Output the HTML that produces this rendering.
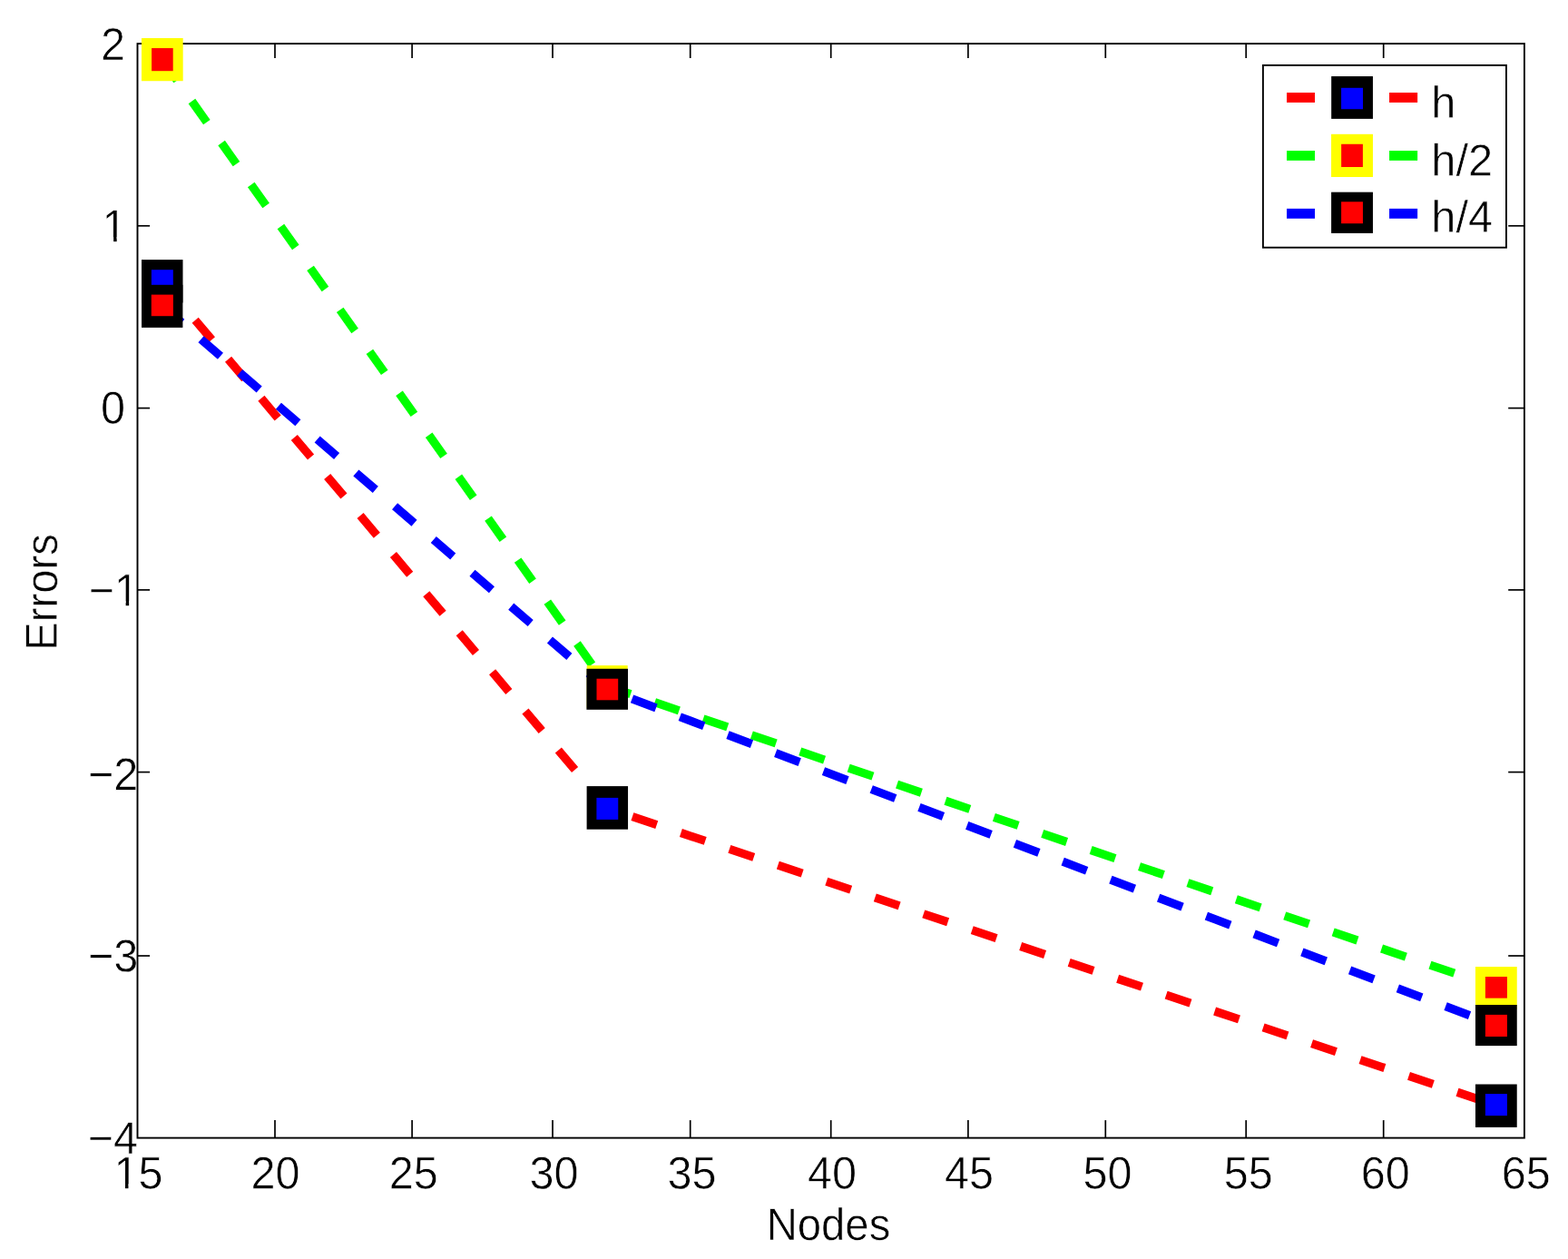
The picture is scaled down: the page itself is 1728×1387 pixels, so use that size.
<!DOCTYPE html>
<html lang="en"><head><meta charset="utf-8"><title>Errors vs Nodes</title>
<style>
html,body{margin:0;padding:0;background:#fff;}
body{width:1728px;height:1387px;overflow:hidden;}
svg{display:block;}
text{font-family:"Liberation Sans",sans-serif;font-size:48px;fill:#000;stroke:#fff;stroke-width:0.6px;stroke-linejoin:round;}
</style></head><body>
<svg width="1728" height="1387" viewBox="0 0 1728 1387">
<rect x="0" y="0" width="1728" height="1387" fill="#ffffff"/>
<g id="tick-labels">
<text transform="translate(152.40 1309.55) rotate(0.05) scale(1.012 1.05)" text-anchor="middle">15</text>
<text transform="translate(303.40 1309.55) rotate(0.05) scale(1.012 1.05)" text-anchor="middle">20</text>
<text transform="translate(455.80 1309.55) rotate(0.05) scale(1.012 1.05)" text-anchor="middle">25</text>
<text transform="translate(610.50 1309.55) rotate(0.05) scale(1.012 1.05)" text-anchor="middle">30</text>
<text transform="translate(762.40 1309.55) rotate(0.05) scale(1.012 1.05)" text-anchor="middle">35</text>
<text transform="translate(916.90 1309.55) rotate(0.05) scale(1.012 1.05)" text-anchor="middle">40</text>
<text transform="translate(1067.90 1309.55) rotate(0.05) scale(1.012 1.05)" text-anchor="middle">45</text>
<text transform="translate(1220.40 1309.55) rotate(0.05) scale(1.012 1.05)" text-anchor="middle">50</text>
<text transform="translate(1375.80 1309.55) rotate(0.05) scale(1.012 1.05)" text-anchor="middle">55</text>
<text transform="translate(1526.70 1309.55) rotate(0.05) scale(1.012 1.05)" text-anchor="middle">60</text>
<text transform="translate(1681.80 1309.55) rotate(0.05) scale(1.012 1.05)" text-anchor="middle">65</text>
<text transform="translate(124.60 66.05) rotate(0.05) scale(1.012 1.05)" text-anchor="middle">2</text>
<text transform="translate(126.10 266.25) rotate(0.05) scale(1.012 1.05)" text-anchor="middle">1</text>
<text transform="translate(124.60 466.45) rotate(0.05) scale(1.012 1.05)" text-anchor="middle">0</text>
<text transform="translate(125.40 667.45) rotate(0.05) scale(1.012 1.05)" text-anchor="middle">−1</text>
<text transform="translate(124.60 870.25) rotate(0.05) scale(1.012 1.05)" text-anchor="middle">−2</text>
<text transform="translate(124.60 1070.35) rotate(0.05) scale(1.012 1.05)" text-anchor="middle">−3</text>
<text transform="translate(124.40 1271.05) rotate(0.05) scale(1.012 1.05)" text-anchor="middle">−4</text>
<rect x="127.88" y="1304.50" width="10.05" height="6.00" fill="#fff"/>
<rect x="141.45" y="1304.50" width="9.93" height="6.00" fill="#fff"/>
<rect x="115.09" y="261.20" width="10.05" height="6.00" fill="#fff"/>
<rect x="128.66" y="261.20" width="9.93" height="6.00" fill="#fff"/>
<rect x="128.58" y="662.40" width="10.05" height="6.00" fill="#fff"/>
<rect x="142.15" y="662.40" width="9.93" height="6.00" fill="#fff"/>
</g>
<g id="axis-labels">
<text transform="translate(913.00 1366.05) rotate(0.05) scale(0.984 1.037)" text-anchor="middle">Nodes</text>
<text transform="translate(62.90 652.45) rotate(-89.95) scale(0.984 1.037)" text-anchor="middle">Errors</text>
</g>
<g id="axes" stroke="#000" fill="none">
<rect x="151.5" y="48.1" width="1528.4" height="1205.5" stroke-width="1.9"/>
<g stroke-width="1.7">
<line x1="303.00" y1="1253.60" x2="303.00" y2="1234.10"/>
<line x1="303.00" y1="48.10" x2="303.00" y2="64.00"/>
<line x1="454.10" y1="1253.60" x2="454.10" y2="1234.10"/>
<line x1="454.10" y1="48.10" x2="454.10" y2="64.00"/>
<line x1="609.00" y1="1253.60" x2="609.00" y2="1234.10"/>
<line x1="609.00" y1="48.10" x2="609.00" y2="64.00"/>
<line x1="760.70" y1="1253.60" x2="760.70" y2="1234.10"/>
<line x1="760.70" y1="48.10" x2="760.70" y2="64.00"/>
<line x1="915.70" y1="1253.60" x2="915.70" y2="1234.10"/>
<line x1="915.70" y1="48.10" x2="915.70" y2="64.00"/>
<line x1="1066.90" y1="1253.60" x2="1066.90" y2="1234.10"/>
<line x1="1066.90" y1="48.10" x2="1066.90" y2="64.00"/>
<line x1="1218.30" y1="1253.60" x2="1218.30" y2="1234.10"/>
<line x1="1218.30" y1="48.10" x2="1218.30" y2="64.00"/>
<line x1="1373.20" y1="1253.60" x2="1373.20" y2="1234.10"/>
<line x1="1373.20" y1="48.10" x2="1373.20" y2="64.00"/>
<line x1="1524.70" y1="1253.60" x2="1524.70" y2="1234.10"/>
<line x1="1524.70" y1="48.10" x2="1524.70" y2="64.00"/>
<line x1="151.50" y1="248.80" x2="165.10" y2="248.80"/>
<line x1="1679.90" y1="248.80" x2="1662.20" y2="248.80"/>
<line x1="151.50" y1="449.60" x2="165.10" y2="449.60"/>
<line x1="1679.90" y1="449.60" x2="1662.20" y2="449.60"/>
<line x1="151.50" y1="649.90" x2="165.10" y2="649.90"/>
<line x1="1679.90" y1="649.90" x2="1662.20" y2="649.90"/>
<line x1="151.50" y1="850.60" x2="165.10" y2="850.60"/>
<line x1="1679.90" y1="850.60" x2="1662.20" y2="850.60"/>
<line x1="151.50" y1="1053.00" x2="165.10" y2="1053.00"/>
<line x1="1679.90" y1="1053.00" x2="1662.20" y2="1053.00"/>
</g>
</g>
<g id="series-h">
<polyline points="178.80,309.60 669.30,890.40 1648.85,1217.60" fill="none" stroke="#ff0000" stroke-width="9.3" stroke-dasharray="28.3 28.08"/>
<rect x="156.00" y="286.10" width="45.50" height="47.40" fill="#000000"/>
<rect x="166.90" y="297.20" width="23.90" height="24.00" fill="#0000ff"/>
<rect x="646.60" y="866.10" width="45.45" height="47.60" fill="#000000"/>
<rect x="657.40" y="878.90" width="23.85" height="24.00" fill="#0000ff"/>
<rect x="1625.96" y="1194.50" width="45.76" height="47.40" fill="#000000"/>
<rect x="1636.90" y="1205.10" width="24.00" height="24.00" fill="#0000ff"/>
</g>
<g id="series-h-2">
<polyline points="178.80,65.60 669.30,756.00 1648.85,1087.80" fill="none" stroke="#00ff00" stroke-width="9.3" stroke-dasharray="28.3 28.08"/>
<rect x="155.97" y="42.00" width="45.70" height="47.24" fill="#ffff00"/>
<rect x="167.08" y="53.04" width="23.62" height="25.16" fill="#ff0000"/>
<rect x="646.70" y="733.10" width="45.00" height="46.90" fill="#ffff00"/>
<rect x="657.50" y="744.00" width="23.70" height="25.00" fill="#ff0000"/>
<rect x="1625.96" y="1065.05" width="45.78" height="46.95" fill="#ffff00"/>
<rect x="1636.90" y="1076.00" width="24.00" height="23.65" fill="#ff0000"/>
</g>
<g id="series-h-4">
<polyline points="178.80,336.90 669.30,759.50 1648.85,1129.80" fill="none" stroke="#0000ff" stroke-width="9.3" stroke-dasharray="28.3 28.08"/>
<rect x="156.04" y="313.80" width="45.36" height="47.10" fill="#000000"/>
<rect x="166.80" y="324.60" width="24.05" height="23.60" fill="#ff0000"/>
<rect x="646.40" y="736.76" width="45.60" height="45.04" fill="#000000"/>
<rect x="657.50" y="747.70" width="23.70" height="23.60" fill="#ff0000"/>
<rect x="1625.96" y="1107.00" width="45.78" height="45.10" fill="#000000"/>
<rect x="1636.90" y="1117.90" width="24.00" height="24.10" fill="#ff0000"/>
</g>
<g id="legend">
<rect x="1391.9" y="71.9" width="268.05" height="200.8" fill="#fff" stroke="#000" stroke-width="1.9"/>
<rect x="1418.05" y="102.05" width="31.00" height="10.90" fill="#ff0000"/>
<rect x="1531.05" y="102.05" width="31.09" height="10.90" fill="#ff0000"/>
<rect x="1467.18" y="84.06" width="45.78" height="46.84" fill="#000000"/>
<rect x="1478.07" y="96.80" width="23.93" height="23.45" fill="#0000ff"/>
<text transform="translate(1577.30 129.85) rotate(0.05) scale(1.015 1.027)" text-anchor="start">h</text>
<rect x="1418.05" y="166.04" width="31.00" height="10.82" fill="#00ff00"/>
<rect x="1531.05" y="166.04" width="31.09" height="10.82" fill="#00ff00"/>
<rect x="1467.05" y="147.80" width="45.93" height="47.20" fill="#ffff00"/>
<rect x="1478.15" y="158.77" width="23.75" height="25.23" fill="#ff0000"/>
<text transform="translate(1577.30 193.55) rotate(0.05) scale(1.015 1.027)" text-anchor="start">h/2</text>
<rect x="1418.05" y="229.84" width="31.00" height="10.92" fill="#0000ff"/>
<rect x="1531.05" y="229.84" width="31.09" height="10.92" fill="#0000ff"/>
<rect x="1467.10" y="211.67" width="45.88" height="45.23" fill="#000000"/>
<rect x="1478.10" y="222.27" width="23.85" height="23.93" fill="#ff0000"/>
<text transform="translate(1577.30 255.65) rotate(0.05) scale(1.015 1.027)" text-anchor="start">h/4</text>
</g>
</svg>
</body></html>
